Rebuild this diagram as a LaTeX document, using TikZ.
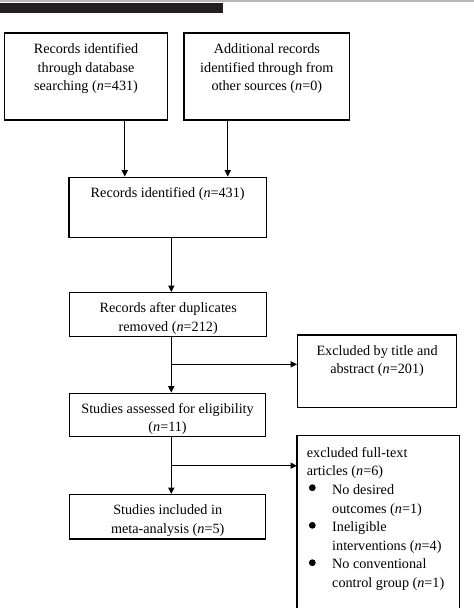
\documentclass[tikz,border=0pt]{standalone}
\usepackage{fontspec}
\setmainfont{Liberation Serif}
\usetikzlibrary{arrows.meta,calc}
\definecolor{barblack}{HTML}{231F20}
\definecolor{bargray}{HTML}{B8B8B8}
\begin{document}
\begin{tikzpicture}[x=1pt,y=-1pt,
  box/.style={draw,line width=1.4pt,inner sep=0pt,anchor=north west},
  txt/.style={font=\fontsize{14.2}{18.6}\selectfont,align=center,inner sep=0pt,anchor=north},
  ltxt/.style={font=\fontsize{14.2}{18.6}\selectfont,align=left,inner sep=0pt,anchor=north west},
  arr/.style={line width=1.4pt,-{Triangle[length=6.5pt,width=6pt]}},
  con/.style={line width=1.4pt},
  bul/.style={fill=black}]
\useasboundingbox (0,0) rectangle (474,608);
% header bars
\fill[bargray] (0,0) rectangle (474,2);
\fill[barblack] (0,3.3) rectangle (222.7,12.7);
% boxes
\node[box,minimum width=162.7pt,minimum height=87pt] (b1) at (4,32.3) {};
\node[box,minimum width=165.7pt,minimum height=87pt] (b2) at (183.3,32.3) {};
\node[box,minimum width=197.4pt,minimum height=60pt] (b3) at (68.3,176.7) {};
\node[box,minimum width=197pt,minimum height=44pt] (b4) at (69,292) {};
\node[box,minimum width=158.7pt,minimum height=72.7pt] (b5) at (297,334.3) {};
\node[box,minimum width=195.7pt,minimum height=43.3pt] (b6) at (69,392.7) {};
\node[inner sep=0pt,anchor=north west,minimum width=162pt,minimum height=172.3pt] (b7) at (297,435.7) {};
\draw[con] (b7.south west) -- (b7.north west) -- (b7.north east) -- (b7.south east);
\node[box,minimum width=196pt,minimum height=44.3pt] (b8) at (69,494) {};
% texts
\node[txt] (t1) at ($(b1.north)+(0,11.3)$) {Records identified\\through database\\searching (\textit{n}=431)};
\node[txt] (t2) at ($(b2.north)+(0,11.3)$) {Additional records\\identified through from\\other sources (\textit{n}=0)};
\node[txt] (t3) at ($(b3.north)+(0,10.9)$) {Records identified (\textit{n}=431)};
\node[txt] (t4) at ($(b4.north)+(0,10.6)$) {Records after duplicates\\removed (\textit{n}=212)};
\node[txt] (t5) at ($(b5.north)+(0,11)$) {Excluded by title and\\abstract (\textit{n}=201)};
\node[txt] (t6) at ($(b6.north)+(0,10.3)$) {Studies assessed for eligibility\\(\textit{n}=11)};
\node[ltxt] (t7) at (306.7,447) {excluded full-text\\articles (\textit{n}=6)\\
\hspace*{25.3pt}No desired\\
\hspace*{25.3pt}outcomes (\textit{n}=1)\\
\hspace*{25.3pt}Ineligible\\
\hspace*{25.3pt}interventions (\textit{n}=4)\\
\hspace*{25.3pt}No conventional\\
\hspace*{25.3pt}control group (\textit{n}=1)};
\node[txt] (t8) at ($(b8.north)+(0,10.6)$) {Studies included in\\meta-analysis (\textit{n}=5)};
% bullets
\fill[bul] (312.3,487.7) circle (3.4pt);
\fill[bul] (312.3,525.3) circle (3.4pt);
\fill[bul] (312.3,562.7) circle (3.4pt);
% connector positions
\coordinate (c1) at (124.7,0);
\coordinate (c2) at (227.7,0);
\coordinate (ax) at (171.3,0);
\coordinate (j1) at (171.3,364.3);
\coordinate (j2) at (171.3,465.7);
% connectors
\draw[arr] (b1.south -| c1) -- (b3.north -| c1);
\draw[arr] (b2.south -| c2) -- (b3.north -| c2);
\draw[arr] (b3.south -| ax) -- (b4.north -| ax);
\draw[arr] (b4.south -| ax) -- (b6.north -| ax);
\draw[arr] (j1) -- (j1 -| b5.west);
\draw[arr] (b6.south -| ax) -- (b8.north -| ax);
\draw[arr] (j2) -- (j2 -| b7.west);
\end{tikzpicture}
\end{document}
